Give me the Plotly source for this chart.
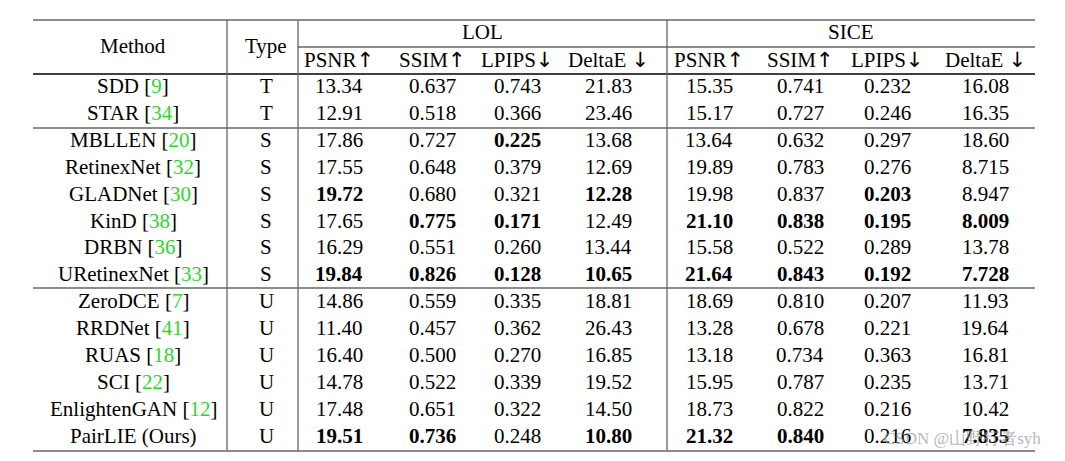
import plotly.graph_objects as go

methods = ["SDD", "STAR", "MBLLEN", "RetinexNet", "GLADNet", "KinD", "DRBN", "URetinexNet",
           "ZeroDCE", "RRDNet", "RUAS", "SCI", "EnlightenGAN", "PairLIE (Ours)"]
cites = ["9", "34", "20", "32", "30", "38", "36", "33", "7", "41", "18", "22", "12", ""]
types = ["T", "T", "S", "S", "S", "S", "S", "S", "U", "U", "U", "U", "U", "U"]
metric_names = ["PSNR", "SSIM", "LPIPS", "DeltaE "]
metric_arrows = ["↑", "↑", "↓", "↓"]
lol = [
    ["13.34", "0.637", "0.743", "21.83"], ["12.91", "0.518", "0.366", "23.46"],
    ["17.86", "0.727", "0.225", "13.68"], ["17.55", "0.648", "0.379", "12.69"],
    ["19.72", "0.680", "0.321", "12.28"], ["17.65", "0.775", "0.171", "12.49"],
    ["16.29", "0.551", "0.260", "13.44"], ["19.84", "0.826", "0.128", "10.65"],
    ["14.86", "0.559", "0.335", "18.81"], ["11.40", "0.457", "0.362", "26.43"],
    ["16.40", "0.500", "0.270", "16.85"], ["14.78", "0.522", "0.339", "19.52"],
    ["17.48", "0.651", "0.322", "14.50"], ["19.51", "0.736", "0.248", "10.80"],
]
sice = [
    ["15.35", "0.741", "0.232", "16.08"], ["15.17", "0.727", "0.246", "16.35"],
    ["13.64", "0.632", "0.297", "18.60"], ["19.89", "0.783", "0.276", "8.715"],
    ["19.98", "0.837", "0.203", "8.947"], ["21.10", "0.838", "0.195", "8.009"],
    ["15.58", "0.522", "0.289", "13.78"], ["21.64", "0.843", "0.192", "7.728"],
    ["18.69", "0.810", "0.207", "11.93"], ["13.28", "0.678", "0.221", "19.64"],
    ["13.18", "0.734", "0.363", "16.81"], ["15.95", "0.787", "0.235", "13.71"],
    ["18.73", "0.822", "0.216", "10.42"], ["21.32", "0.840", "0.216", "7.835"],
]
bold_lol = [[4, 7, 13], [5, 7, 13], [2, 5, 7], [4, 7, 13]]
bold_sice = [[5, 7, 13], [5, 7, 13], [4, 5, 7], [5, 7, 13]]

row_y = [86 + i * 26.9 for i in range(14)]
col_x = [339, 432, 517, 608, 709, 800, 887, 985]
FONT = "Liberation Serif"
fig = go.Figure()
anns = []

def t(x, y, s, size=21, color="black"):
    anns.append(dict(x=x, y=y, text=s, showarrow=False, xref="x", yref="y",
                     font=dict(family=FONT, size=size, color=color)))

t(133, 46, "Method")
t(266, 46, "Type")
t(482, 32, "LOL")
t(851, 32, "SICE")
for j in range(8):
    k = j % 4
    t(col_x[j], 60, metric_names[k] +
      f'<span style="font-family:DejaVu Sans;color:black">{metric_arrows[k]}</span>')
for i in range(14):
    name = methods[i] + (f' [<span style="color:#2fd52f">{cites[i]}</span>]' if cites[i] else "")
    t(133, row_y[i], name)
    t(266, row_y[i], types[i])
    for j in range(4):
        v = lol[i][j]
        t(col_x[j], row_y[i], f"<b>{v}</b>" if i in bold_lol[j] else v)
        v = sice[i][j]
        t(col_x[4 + j], row_y[i], f"<b>{v}</b>" if i in bold_sice[j] else v)

t(962, 438, "CSDN @山野行者syh", size=17, color="rgba(150,150,150,0.7)")

shapes = []
def line(x0, y0, x1, y1, w=1.3, c="#666"):
    shapes.append(dict(type="line", x0=x0, y0=y0, x1=x1, y1=y1, xref="x", yref="y",
                       line=dict(color=c, width=w)))
line(33, 20, 1035, 20)
line(298, 47, 1035, 47)
line(33, 74, 1035, 74, c="black")
line(33, 128, 1035, 128)
line(33, 288, 1035, 288)
line(33, 451, 1035, 451)
for x in [227, 298, 667]:
    line(x, 20, x, 451)

fig.update_layout(width=1057, height=453, margin=dict(l=0, r=0, t=0, b=0),
                  plot_bgcolor="white", paper_bgcolor="white",
                  xaxis=dict(range=[8, 1065], visible=False),
                  yaxis=dict(range=[461, 8], visible=False),
                  annotations=anns, shapes=shapes)
fig.write_html("out.html")
